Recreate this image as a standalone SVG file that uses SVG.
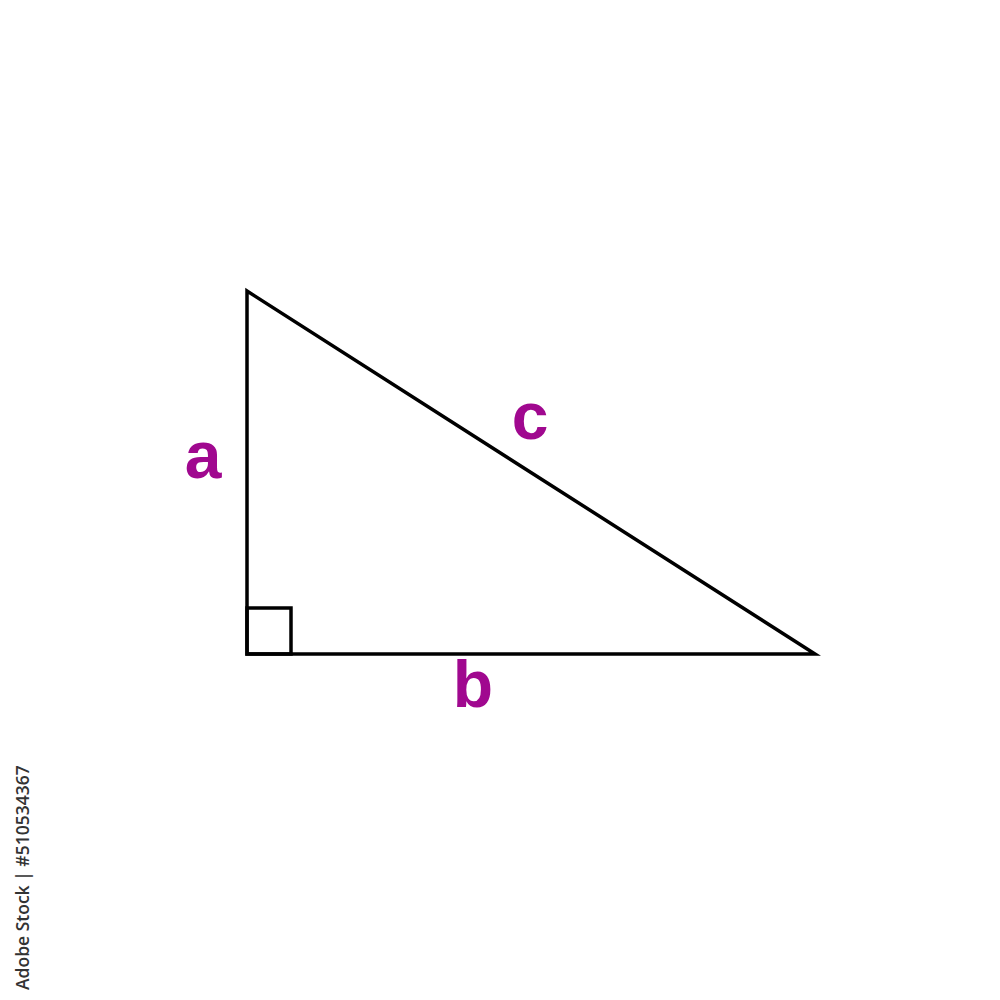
<svg xmlns="http://www.w3.org/2000/svg" width="1000" height="1000" viewBox="0 0 1000 1000">
<style>
.edge{fill:none;stroke:#000;stroke-width:3.5;stroke-linejoin:miter}
.lbl{font-family:"Liberation Sans",Arial,sans-serif;font-weight:bold;font-size:66px;fill:#a0088f;text-anchor:middle}
.wm{font-family:"Open Sans","Noto Sans",sans-serif;font-size:17.5px;font-weight:600;fill:#333}
</style>
<rect width="1000" height="1000" fill="#fff"/>
<g id="triangle">
<polygon class="edge" points="247,291 247,654 815,654"/>
<rect id="right-angle" class="edge" x="247" y="608" width="44" height="46"/>
</g>
<g id="labels">
<text id="label-a" class="lbl" x="203" y="478">a</text>
<text id="label-c" class="lbl" x="530" y="439">c</text>
<text id="label-b" class="lbl" x="473" y="707">b</text>
</g>
<text class="wm" transform="translate(29,990) rotate(-90)">Adobe Stock | #510534367</text>
</svg>
